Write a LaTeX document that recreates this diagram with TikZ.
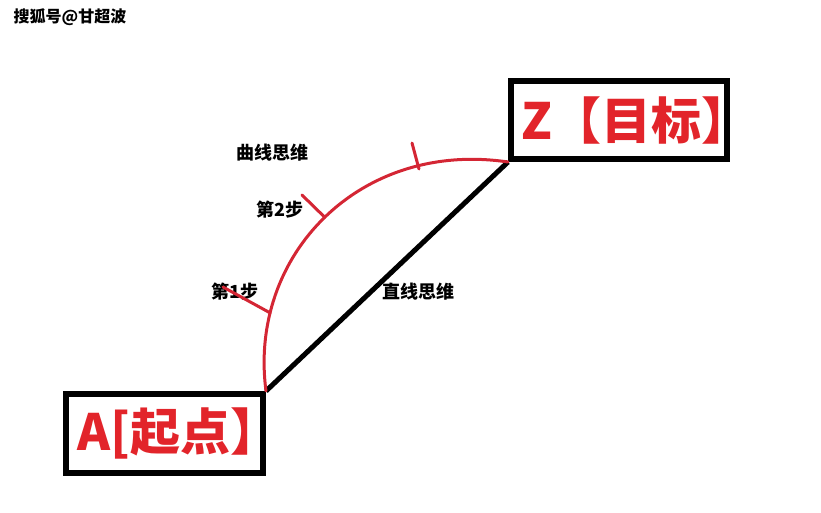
\documentclass[tikz,border=0pt]{standalone}
\usepackage{fontspec}
\usepackage{tikz}
\usetikzlibrary{calc,positioning}
\newfontfamily\cjk{Noto Sans CJK SC}
\definecolor{pen}{RGB}{226,36,42}
\definecolor{curvepen}{RGB}{212,38,52}
\tikzstyle{goal box}=[draw=black,line width=6pt,inner sep=0pt,
  font=\cjk\bfseries\fontsize{50}{50}\selectfont,text=pen]
\tikzstyle{label}=[font=\cjk\bfseries\fontsize{18}{18}\selectfont,text=black]
\tikzstyle{red pen}=[draw=curvepen,line width=3pt,line cap=round]

\begin{document}
\begin{tikzpicture}[x=1pt,y=-1pt]
        \useasboundingbox (0,0) rectangle (821,512);
        % Watermark:
        \node (mark) [label,font=\cjk\bfseries\fontsize{16}{16}\selectfont] at (70,17) {搜狐号@甘超波};
        % Boxes:
        \node (a) [goal box,minimum width=197pt,minimum height=79pt] at (164.5,433.5) {\makebox[0pt]{\hspace*{.56em}A[起点】}};
        \node (z) [goal box,minimum width=216pt,minimum height=78pt] at (619,120) {\makebox[0pt]{\hspace*{.7em}Z【目标】}};
        % Labels:
        \node (curve) [label] at (272,153) {曲线思维};
        \node (step2) [label] at (280,210) {第2步};
        \node (step1) [label] at (235,292) {第1步};
        \node (line) [label] at (418,292) {直线思维};
        % Straight way:
        \draw[black,line width=5pt] (a.north east) -- (z.south west);
        % Curved way:
        \draw[red pen] (a.north east) .. controls (248,255) and (360,140) .. (z.south west)
          coordinate[pos=0.2] (s1)
          coordinate[pos=0.5] (s2);
        \coordinate (t1) at (223,287);
        \coordinate (t2) at (302,195);
        \coordinate (t3a) at (412,143);
        \coordinate (t3b) at (419,169);
        \draw[red pen] (s1) -- (t1);
        \draw[red pen] (s2) -- (t2);
        \draw[red pen] (t3a) -- (t3b);
\end{tikzpicture}
\end{document}
